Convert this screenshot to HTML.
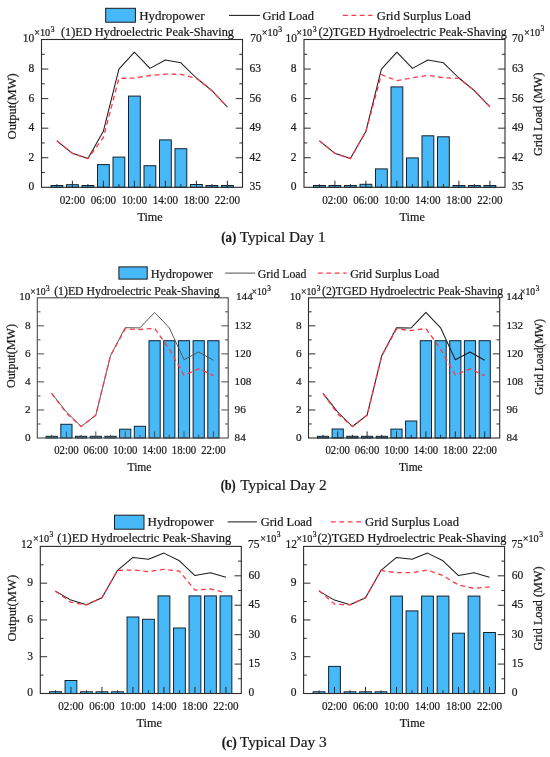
<!DOCTYPE html>
<html><head><meta charset="utf-8"><title>Hydroelectric Peak-Shaving</title>
<style>html,body{margin:0;padding:0;background:#fff;}svg{display:block;}text{fill:#1a1a1a;stroke:#1a1a1a;stroke-width:0.22px;}</style></head>
<body><svg width="550" height="757" viewBox="0 0 550 757" font-family='"Liberation Serif", serif'>
<rect width="550" height="757" fill="#fff"/>
<rect x="51.00" y="185.50" width="11.80" height="1.80" fill="#48b9f8" stroke="#15222c" stroke-width="1"/>
<rect x="66.50" y="184.70" width="11.80" height="2.60" fill="#48b9f8" stroke="#15222c" stroke-width="1"/>
<rect x="82.00" y="185.50" width="11.80" height="1.80" fill="#48b9f8" stroke="#15222c" stroke-width="1"/>
<rect x="97.50" y="164.60" width="11.80" height="22.70" fill="#48b9f8" stroke="#15222c" stroke-width="1"/>
<rect x="113.00" y="157.10" width="11.80" height="30.20" fill="#48b9f8" stroke="#15222c" stroke-width="1"/>
<rect x="128.50" y="96.10" width="11.80" height="91.20" fill="#48b9f8" stroke="#15222c" stroke-width="1"/>
<rect x="144.00" y="165.70" width="11.80" height="21.60" fill="#48b9f8" stroke="#15222c" stroke-width="1"/>
<rect x="159.50" y="139.90" width="11.80" height="47.40" fill="#48b9f8" stroke="#15222c" stroke-width="1"/>
<rect x="175.00" y="148.70" width="11.80" height="38.60" fill="#48b9f8" stroke="#15222c" stroke-width="1"/>
<rect x="190.50" y="184.50" width="11.80" height="2.80" fill="#48b9f8" stroke="#15222c" stroke-width="1"/>
<rect x="206.00" y="185.50" width="11.80" height="1.80" fill="#48b9f8" stroke="#15222c" stroke-width="1"/>
<rect x="221.50" y="185.50" width="11.80" height="1.80" fill="#48b9f8" stroke="#15222c" stroke-width="1"/>
<line x1="56.90" y1="187.30" x2="56.90" y2="184.10" stroke="#2b2b2b" stroke-width="1"/>
<line x1="72.40" y1="187.30" x2="72.40" y2="180.70" stroke="#2b2b2b" stroke-width="1"/>
<line x1="87.90" y1="187.30" x2="87.90" y2="184.10" stroke="#2b2b2b" stroke-width="1"/>
<line x1="103.40" y1="187.30" x2="103.40" y2="180.70" stroke="#2b2b2b" stroke-width="1"/>
<line x1="118.90" y1="187.30" x2="118.90" y2="184.10" stroke="#2b2b2b" stroke-width="1"/>
<line x1="134.40" y1="187.30" x2="134.40" y2="180.70" stroke="#2b2b2b" stroke-width="1"/>
<line x1="149.90" y1="187.30" x2="149.90" y2="184.10" stroke="#2b2b2b" stroke-width="1"/>
<line x1="165.40" y1="187.30" x2="165.40" y2="180.70" stroke="#2b2b2b" stroke-width="1"/>
<line x1="180.90" y1="187.30" x2="180.90" y2="184.10" stroke="#2b2b2b" stroke-width="1"/>
<line x1="196.40" y1="187.30" x2="196.40" y2="180.70" stroke="#2b2b2b" stroke-width="1"/>
<line x1="211.90" y1="187.30" x2="211.90" y2="184.10" stroke="#2b2b2b" stroke-width="1"/>
<line x1="227.40" y1="187.30" x2="227.40" y2="180.70" stroke="#2b2b2b" stroke-width="1"/>
<polyline points="56.90,140.80 72.40,153.30 87.90,158.60 103.40,131.20 118.90,69.20 134.40,52.20 149.90,68.40 165.40,60.00 180.90,62.80 196.40,78.00 211.90,90.70 227.40,107.00" fill="none" stroke="#1e1e1e" stroke-width="1.05" stroke-linejoin="round"/>
<polyline points="56.90,140.80 72.40,153.30 87.90,158.60 103.40,137.50 118.90,78.40 134.40,78.10 149.90,75.50 165.40,74.10 180.90,74.30 196.40,78.20 211.90,90.70 227.40,107.00" fill="none" stroke="#ff3646" stroke-width="1.3" stroke-dasharray="4.8 3.6" stroke-linejoin="round"/>
<line x1="41.50" y1="172.52" x2="44.70" y2="172.52" stroke="#2b2b2b" stroke-width="1"/>
<line x1="41.50" y1="157.74" x2="48.30" y2="157.74" stroke="#2b2b2b" stroke-width="1"/>
<line x1="41.50" y1="142.96" x2="44.70" y2="142.96" stroke="#2b2b2b" stroke-width="1"/>
<line x1="41.50" y1="128.18" x2="48.30" y2="128.18" stroke="#2b2b2b" stroke-width="1"/>
<line x1="41.50" y1="113.40" x2="44.70" y2="113.40" stroke="#2b2b2b" stroke-width="1"/>
<line x1="41.50" y1="98.62" x2="48.30" y2="98.62" stroke="#2b2b2b" stroke-width="1"/>
<line x1="41.50" y1="83.84" x2="44.70" y2="83.84" stroke="#2b2b2b" stroke-width="1"/>
<line x1="41.50" y1="69.06" x2="48.30" y2="69.06" stroke="#2b2b2b" stroke-width="1"/>
<line x1="41.50" y1="54.28" x2="44.70" y2="54.28" stroke="#2b2b2b" stroke-width="1"/>
<line x1="242.50" y1="172.52" x2="239.30" y2="172.52" stroke="#2b2b2b" stroke-width="1"/>
<line x1="242.50" y1="157.74" x2="235.70" y2="157.74" stroke="#2b2b2b" stroke-width="1"/>
<line x1="242.50" y1="142.96" x2="239.30" y2="142.96" stroke="#2b2b2b" stroke-width="1"/>
<line x1="242.50" y1="128.18" x2="235.70" y2="128.18" stroke="#2b2b2b" stroke-width="1"/>
<line x1="242.50" y1="113.40" x2="239.30" y2="113.40" stroke="#2b2b2b" stroke-width="1"/>
<line x1="242.50" y1="98.62" x2="235.70" y2="98.62" stroke="#2b2b2b" stroke-width="1"/>
<line x1="242.50" y1="83.84" x2="239.30" y2="83.84" stroke="#2b2b2b" stroke-width="1"/>
<line x1="242.50" y1="69.06" x2="235.70" y2="69.06" stroke="#2b2b2b" stroke-width="1"/>
<line x1="242.50" y1="54.28" x2="239.30" y2="54.28" stroke="#2b2b2b" stroke-width="1"/>
<rect x="41.50" y="39.50" width="201.00" height="147.80" fill="none" stroke="#2b2b2b" stroke-width="1.1"/>
<text x="34.20" y="190.20" font-size="11.5" text-anchor="end">0</text>
<text x="34.20" y="160.64" font-size="11.5" text-anchor="end">2</text>
<text x="34.20" y="131.08" font-size="11.5" text-anchor="end">4</text>
<text x="34.20" y="101.52" font-size="11.5" text-anchor="end">6</text>
<text x="34.20" y="71.96" font-size="11.5" text-anchor="end">8</text>
<text x="249.60" y="190.20" font-size="11.5">35</text>
<text x="249.60" y="160.64" font-size="11.5">42</text>
<text x="249.60" y="131.08" font-size="11.5">49</text>
<text x="249.60" y="101.52" font-size="11.5">56</text>
<text x="249.60" y="71.96" font-size="11.5">63</text>
<text x="59.80" y="203.50" font-size="12.5" textLength="25.20" lengthAdjust="spacingAndGlyphs">02:00</text>
<text x="90.80" y="203.50" font-size="12.5" textLength="25.20" lengthAdjust="spacingAndGlyphs">06:00</text>
<text x="121.80" y="203.50" font-size="12.5" textLength="25.20" lengthAdjust="spacingAndGlyphs">10:00</text>
<text x="152.80" y="203.50" font-size="12.5" textLength="25.20" lengthAdjust="spacingAndGlyphs">14:00</text>
<text x="183.80" y="203.50" font-size="12.5" textLength="25.20" lengthAdjust="spacingAndGlyphs">18:00</text>
<text x="214.80" y="203.50" font-size="12.5" textLength="25.20" lengthAdjust="spacingAndGlyphs">22:00</text>
<text x="137.40" y="221.40" font-size="12.2" textLength="25.40" lengthAdjust="spacingAndGlyphs">Time</text>
<rect x="313.50" y="185.50" width="11.80" height="1.80" fill="#48b9f8" stroke="#15222c" stroke-width="1"/>
<rect x="329.00" y="185.50" width="11.80" height="1.80" fill="#48b9f8" stroke="#15222c" stroke-width="1"/>
<rect x="344.50" y="185.50" width="11.80" height="1.80" fill="#48b9f8" stroke="#15222c" stroke-width="1"/>
<rect x="360.00" y="184.30" width="11.80" height="3.00" fill="#48b9f8" stroke="#15222c" stroke-width="1"/>
<rect x="375.50" y="168.90" width="11.80" height="18.40" fill="#48b9f8" stroke="#15222c" stroke-width="1"/>
<rect x="391.00" y="86.90" width="11.80" height="100.40" fill="#48b9f8" stroke="#15222c" stroke-width="1"/>
<rect x="406.50" y="157.90" width="11.80" height="29.40" fill="#48b9f8" stroke="#15222c" stroke-width="1"/>
<rect x="422.00" y="135.80" width="11.80" height="51.50" fill="#48b9f8" stroke="#15222c" stroke-width="1"/>
<rect x="437.50" y="136.80" width="11.80" height="50.50" fill="#48b9f8" stroke="#15222c" stroke-width="1"/>
<rect x="453.00" y="185.50" width="11.80" height="1.80" fill="#48b9f8" stroke="#15222c" stroke-width="1"/>
<rect x="468.50" y="185.50" width="11.80" height="1.80" fill="#48b9f8" stroke="#15222c" stroke-width="1"/>
<rect x="484.00" y="185.50" width="11.80" height="1.80" fill="#48b9f8" stroke="#15222c" stroke-width="1"/>
<line x1="319.40" y1="187.30" x2="319.40" y2="184.10" stroke="#2b2b2b" stroke-width="1"/>
<line x1="334.90" y1="187.30" x2="334.90" y2="180.70" stroke="#2b2b2b" stroke-width="1"/>
<line x1="350.40" y1="187.30" x2="350.40" y2="184.10" stroke="#2b2b2b" stroke-width="1"/>
<line x1="365.90" y1="187.30" x2="365.90" y2="180.70" stroke="#2b2b2b" stroke-width="1"/>
<line x1="381.40" y1="187.30" x2="381.40" y2="184.10" stroke="#2b2b2b" stroke-width="1"/>
<line x1="396.90" y1="187.30" x2="396.90" y2="180.70" stroke="#2b2b2b" stroke-width="1"/>
<line x1="412.40" y1="187.30" x2="412.40" y2="184.10" stroke="#2b2b2b" stroke-width="1"/>
<line x1="427.90" y1="187.30" x2="427.90" y2="180.70" stroke="#2b2b2b" stroke-width="1"/>
<line x1="443.40" y1="187.30" x2="443.40" y2="184.10" stroke="#2b2b2b" stroke-width="1"/>
<line x1="458.90" y1="187.30" x2="458.90" y2="180.70" stroke="#2b2b2b" stroke-width="1"/>
<line x1="474.40" y1="187.30" x2="474.40" y2="184.10" stroke="#2b2b2b" stroke-width="1"/>
<line x1="489.90" y1="187.30" x2="489.90" y2="180.70" stroke="#2b2b2b" stroke-width="1"/>
<polyline points="319.40,140.80 334.90,153.30 350.40,158.60 365.90,131.20 381.40,69.20 396.90,52.20 412.40,68.40 427.90,60.00 443.40,62.80 458.90,78.00 474.40,90.70 489.90,107.00" fill="none" stroke="#1e1e1e" stroke-width="1.05" stroke-linejoin="round"/>
<polyline points="319.40,140.80 334.90,153.30 350.40,158.60 365.90,131.60 381.40,74.70 396.90,80.60 412.40,77.80 427.90,75.40 443.40,77.80 458.90,78.30 474.40,90.70 489.90,106.80" fill="none" stroke="#ff3646" stroke-width="1.3" stroke-dasharray="4.8 3.6" stroke-linejoin="round"/>
<line x1="304.00" y1="172.52" x2="307.20" y2="172.52" stroke="#2b2b2b" stroke-width="1"/>
<line x1="304.00" y1="157.74" x2="310.80" y2="157.74" stroke="#2b2b2b" stroke-width="1"/>
<line x1="304.00" y1="142.96" x2="307.20" y2="142.96" stroke="#2b2b2b" stroke-width="1"/>
<line x1="304.00" y1="128.18" x2="310.80" y2="128.18" stroke="#2b2b2b" stroke-width="1"/>
<line x1="304.00" y1="113.40" x2="307.20" y2="113.40" stroke="#2b2b2b" stroke-width="1"/>
<line x1="304.00" y1="98.62" x2="310.80" y2="98.62" stroke="#2b2b2b" stroke-width="1"/>
<line x1="304.00" y1="83.84" x2="307.20" y2="83.84" stroke="#2b2b2b" stroke-width="1"/>
<line x1="304.00" y1="69.06" x2="310.80" y2="69.06" stroke="#2b2b2b" stroke-width="1"/>
<line x1="304.00" y1="54.28" x2="307.20" y2="54.28" stroke="#2b2b2b" stroke-width="1"/>
<line x1="505.00" y1="172.52" x2="501.80" y2="172.52" stroke="#2b2b2b" stroke-width="1"/>
<line x1="505.00" y1="157.74" x2="498.20" y2="157.74" stroke="#2b2b2b" stroke-width="1"/>
<line x1="505.00" y1="142.96" x2="501.80" y2="142.96" stroke="#2b2b2b" stroke-width="1"/>
<line x1="505.00" y1="128.18" x2="498.20" y2="128.18" stroke="#2b2b2b" stroke-width="1"/>
<line x1="505.00" y1="113.40" x2="501.80" y2="113.40" stroke="#2b2b2b" stroke-width="1"/>
<line x1="505.00" y1="98.62" x2="498.20" y2="98.62" stroke="#2b2b2b" stroke-width="1"/>
<line x1="505.00" y1="83.84" x2="501.80" y2="83.84" stroke="#2b2b2b" stroke-width="1"/>
<line x1="505.00" y1="69.06" x2="498.20" y2="69.06" stroke="#2b2b2b" stroke-width="1"/>
<line x1="505.00" y1="54.28" x2="501.80" y2="54.28" stroke="#2b2b2b" stroke-width="1"/>
<rect x="304.00" y="39.50" width="201.00" height="147.80" fill="none" stroke="#2b2b2b" stroke-width="1.1"/>
<text x="296.60" y="190.20" font-size="11.5" text-anchor="end">0</text>
<text x="296.60" y="160.64" font-size="11.5" text-anchor="end">2</text>
<text x="296.60" y="131.08" font-size="11.5" text-anchor="end">4</text>
<text x="296.60" y="101.52" font-size="11.5" text-anchor="end">6</text>
<text x="296.60" y="71.96" font-size="11.5" text-anchor="end">8</text>
<text x="512.00" y="190.20" font-size="11.5">35</text>
<text x="512.00" y="160.64" font-size="11.5">42</text>
<text x="512.00" y="131.08" font-size="11.5">49</text>
<text x="512.00" y="101.52" font-size="11.5">56</text>
<text x="512.00" y="71.96" font-size="11.5">63</text>
<text x="322.30" y="203.50" font-size="12.5" textLength="25.20" lengthAdjust="spacingAndGlyphs">02:00</text>
<text x="353.30" y="203.50" font-size="12.5" textLength="25.20" lengthAdjust="spacingAndGlyphs">06:00</text>
<text x="384.30" y="203.50" font-size="12.5" textLength="25.20" lengthAdjust="spacingAndGlyphs">10:00</text>
<text x="415.30" y="203.50" font-size="12.5" textLength="25.20" lengthAdjust="spacingAndGlyphs">14:00</text>
<text x="446.30" y="203.50" font-size="12.5" textLength="25.20" lengthAdjust="spacingAndGlyphs">18:00</text>
<text x="477.30" y="203.50" font-size="12.5" textLength="25.20" lengthAdjust="spacingAndGlyphs">22:00</text>
<text x="399.55" y="221.40" font-size="12.2" textLength="25.30" lengthAdjust="spacingAndGlyphs">Time</text>
<rect x="46.10" y="436.30" width="11.20" height="1.70" fill="#48b9f8" stroke="#15222c" stroke-width="1"/>
<rect x="60.80" y="424.30" width="11.20" height="13.70" fill="#48b9f8" stroke="#15222c" stroke-width="1"/>
<rect x="75.50" y="436.30" width="11.20" height="1.70" fill="#48b9f8" stroke="#15222c" stroke-width="1"/>
<rect x="90.20" y="436.30" width="11.20" height="1.70" fill="#48b9f8" stroke="#15222c" stroke-width="1"/>
<rect x="104.90" y="436.30" width="11.20" height="1.70" fill="#48b9f8" stroke="#15222c" stroke-width="1"/>
<rect x="119.60" y="429.20" width="11.20" height="8.80" fill="#48b9f8" stroke="#15222c" stroke-width="1"/>
<rect x="134.30" y="426.30" width="11.20" height="11.70" fill="#48b9f8" stroke="#15222c" stroke-width="1"/>
<rect x="149.00" y="340.70" width="11.20" height="97.30" fill="#48b9f8" stroke="#15222c" stroke-width="1"/>
<rect x="163.70" y="340.70" width="11.20" height="97.30" fill="#48b9f8" stroke="#15222c" stroke-width="1"/>
<rect x="178.40" y="340.70" width="11.20" height="97.30" fill="#48b9f8" stroke="#15222c" stroke-width="1"/>
<rect x="193.10" y="340.70" width="11.20" height="97.30" fill="#48b9f8" stroke="#15222c" stroke-width="1"/>
<rect x="207.80" y="340.70" width="11.20" height="97.30" fill="#48b9f8" stroke="#15222c" stroke-width="1"/>
<line x1="51.70" y1="438.00" x2="51.70" y2="434.80" stroke="#4a4a4a" stroke-width="1"/>
<line x1="66.40" y1="438.00" x2="66.40" y2="431.40" stroke="#4a4a4a" stroke-width="1"/>
<line x1="81.10" y1="438.00" x2="81.10" y2="434.80" stroke="#4a4a4a" stroke-width="1"/>
<line x1="95.80" y1="438.00" x2="95.80" y2="431.40" stroke="#4a4a4a" stroke-width="1"/>
<line x1="110.50" y1="438.00" x2="110.50" y2="434.80" stroke="#4a4a4a" stroke-width="1"/>
<line x1="125.20" y1="438.00" x2="125.20" y2="431.40" stroke="#4a4a4a" stroke-width="1"/>
<line x1="139.90" y1="438.00" x2="139.90" y2="434.80" stroke="#4a4a4a" stroke-width="1"/>
<line x1="154.60" y1="438.00" x2="154.60" y2="431.40" stroke="#4a4a4a" stroke-width="1"/>
<line x1="169.30" y1="438.00" x2="169.30" y2="434.80" stroke="#4a4a4a" stroke-width="1"/>
<line x1="184.00" y1="438.00" x2="184.00" y2="431.40" stroke="#4a4a4a" stroke-width="1"/>
<line x1="198.70" y1="438.00" x2="198.70" y2="434.80" stroke="#4a4a4a" stroke-width="1"/>
<line x1="213.40" y1="438.00" x2="213.40" y2="431.40" stroke="#4a4a4a" stroke-width="1"/>
<polyline points="51.70,393.40 66.40,412.00 81.10,426.50 95.80,415.20 110.50,355.70 125.20,327.70 139.90,327.90 154.60,312.40 169.30,327.80 184.00,359.70 198.70,352.00 213.40,360.20" fill="none" stroke="#505050" stroke-width="0.95" stroke-linejoin="round"/>
<polyline points="51.70,393.40 66.40,413.00 81.10,426.50 95.80,415.20 110.50,355.70 125.20,328.90 139.90,329.50 154.60,328.30 169.30,349.00 184.00,375.30 198.70,368.80 213.40,375.60" fill="none" stroke="#ff3646" stroke-width="1.3" stroke-dasharray="4.8 3.6" stroke-linejoin="round"/>
<line x1="37.30" y1="423.98" x2="40.50" y2="423.98" stroke="#4a4a4a" stroke-width="1"/>
<line x1="37.30" y1="409.96" x2="44.10" y2="409.96" stroke="#4a4a4a" stroke-width="1"/>
<line x1="37.30" y1="395.94" x2="40.50" y2="395.94" stroke="#4a4a4a" stroke-width="1"/>
<line x1="37.30" y1="381.92" x2="44.10" y2="381.92" stroke="#4a4a4a" stroke-width="1"/>
<line x1="37.30" y1="367.90" x2="40.50" y2="367.90" stroke="#4a4a4a" stroke-width="1"/>
<line x1="37.30" y1="353.88" x2="44.10" y2="353.88" stroke="#4a4a4a" stroke-width="1"/>
<line x1="37.30" y1="339.86" x2="40.50" y2="339.86" stroke="#4a4a4a" stroke-width="1"/>
<line x1="37.30" y1="325.84" x2="44.10" y2="325.84" stroke="#4a4a4a" stroke-width="1"/>
<line x1="37.30" y1="311.82" x2="40.50" y2="311.82" stroke="#4a4a4a" stroke-width="1"/>
<line x1="228.20" y1="423.98" x2="225.00" y2="423.98" stroke="#4a4a4a" stroke-width="1"/>
<line x1="228.20" y1="409.96" x2="221.40" y2="409.96" stroke="#4a4a4a" stroke-width="1"/>
<line x1="228.20" y1="395.94" x2="225.00" y2="395.94" stroke="#4a4a4a" stroke-width="1"/>
<line x1="228.20" y1="381.92" x2="221.40" y2="381.92" stroke="#4a4a4a" stroke-width="1"/>
<line x1="228.20" y1="367.90" x2="225.00" y2="367.90" stroke="#4a4a4a" stroke-width="1"/>
<line x1="228.20" y1="353.88" x2="221.40" y2="353.88" stroke="#4a4a4a" stroke-width="1"/>
<line x1="228.20" y1="339.86" x2="225.00" y2="339.86" stroke="#4a4a4a" stroke-width="1"/>
<line x1="228.20" y1="325.84" x2="221.40" y2="325.84" stroke="#4a4a4a" stroke-width="1"/>
<line x1="228.20" y1="311.82" x2="225.00" y2="311.82" stroke="#4a4a4a" stroke-width="1"/>
<rect x="37.30" y="297.80" width="190.90" height="140.20" fill="none" stroke="#4a4a4a" stroke-width="1.1"/>
<text x="30.60" y="440.90" font-size="11.2" text-anchor="end">0</text>
<text x="30.60" y="412.86" font-size="11.2" text-anchor="end">2</text>
<text x="30.60" y="384.82" font-size="11.2" text-anchor="end">4</text>
<text x="30.60" y="356.78" font-size="11.2" text-anchor="end">6</text>
<text x="30.60" y="328.74" font-size="11.2" text-anchor="end">8</text>
<text x="234.60" y="440.90" font-size="11.2">84</text>
<text x="234.60" y="412.86" font-size="11.2">96</text>
<text x="234.60" y="384.82" font-size="11.2">108</text>
<text x="234.60" y="356.78" font-size="11.2">120</text>
<text x="234.60" y="328.74" font-size="11.2">132</text>
<text x="54.15" y="453.60" font-size="12.1" textLength="24.50" lengthAdjust="spacingAndGlyphs">02:00</text>
<text x="83.55" y="453.60" font-size="12.1" textLength="24.50" lengthAdjust="spacingAndGlyphs">06:00</text>
<text x="112.95" y="453.60" font-size="12.1" textLength="24.50" lengthAdjust="spacingAndGlyphs">10:00</text>
<text x="142.35" y="453.60" font-size="12.1" textLength="24.50" lengthAdjust="spacingAndGlyphs">14:00</text>
<text x="171.75" y="453.60" font-size="12.1" textLength="24.50" lengthAdjust="spacingAndGlyphs">18:00</text>
<text x="201.15" y="453.60" font-size="12.1" textLength="24.50" lengthAdjust="spacingAndGlyphs">22:00</text>
<text x="127.50" y="471.00" font-size="11.8" textLength="24.00" lengthAdjust="spacingAndGlyphs">Time</text>
<rect x="317.40" y="436.30" width="11.20" height="1.70" fill="#48b9f8" stroke="#15222c" stroke-width="1"/>
<rect x="332.10" y="429.00" width="11.20" height="9.00" fill="#48b9f8" stroke="#15222c" stroke-width="1"/>
<rect x="346.80" y="436.30" width="11.20" height="1.70" fill="#48b9f8" stroke="#15222c" stroke-width="1"/>
<rect x="361.50" y="436.30" width="11.20" height="1.70" fill="#48b9f8" stroke="#15222c" stroke-width="1"/>
<rect x="376.20" y="436.30" width="11.20" height="1.70" fill="#48b9f8" stroke="#15222c" stroke-width="1"/>
<rect x="390.90" y="429.10" width="11.20" height="8.90" fill="#48b9f8" stroke="#15222c" stroke-width="1"/>
<rect x="405.60" y="421.00" width="11.20" height="17.00" fill="#48b9f8" stroke="#15222c" stroke-width="1"/>
<rect x="420.30" y="340.70" width="11.20" height="97.30" fill="#48b9f8" stroke="#15222c" stroke-width="1"/>
<rect x="435.00" y="340.70" width="11.20" height="97.30" fill="#48b9f8" stroke="#15222c" stroke-width="1"/>
<rect x="449.70" y="340.70" width="11.20" height="97.30" fill="#48b9f8" stroke="#15222c" stroke-width="1"/>
<rect x="464.40" y="340.70" width="11.20" height="97.30" fill="#48b9f8" stroke="#15222c" stroke-width="1"/>
<rect x="479.10" y="340.70" width="11.20" height="97.30" fill="#48b9f8" stroke="#15222c" stroke-width="1"/>
<line x1="323.00" y1="438.00" x2="323.00" y2="434.80" stroke="#2b2b2b" stroke-width="1"/>
<line x1="337.70" y1="438.00" x2="337.70" y2="431.40" stroke="#2b2b2b" stroke-width="1"/>
<line x1="352.40" y1="438.00" x2="352.40" y2="434.80" stroke="#2b2b2b" stroke-width="1"/>
<line x1="367.10" y1="438.00" x2="367.10" y2="431.40" stroke="#2b2b2b" stroke-width="1"/>
<line x1="381.80" y1="438.00" x2="381.80" y2="434.80" stroke="#2b2b2b" stroke-width="1"/>
<line x1="396.50" y1="438.00" x2="396.50" y2="431.40" stroke="#2b2b2b" stroke-width="1"/>
<line x1="411.20" y1="438.00" x2="411.20" y2="434.80" stroke="#2b2b2b" stroke-width="1"/>
<line x1="425.90" y1="438.00" x2="425.90" y2="431.40" stroke="#2b2b2b" stroke-width="1"/>
<line x1="440.60" y1="438.00" x2="440.60" y2="434.80" stroke="#2b2b2b" stroke-width="1"/>
<line x1="455.30" y1="438.00" x2="455.30" y2="431.40" stroke="#2b2b2b" stroke-width="1"/>
<line x1="470.00" y1="438.00" x2="470.00" y2="434.80" stroke="#2b2b2b" stroke-width="1"/>
<line x1="484.70" y1="438.00" x2="484.70" y2="431.40" stroke="#2b2b2b" stroke-width="1"/>
<polyline points="323.00,393.40 337.70,412.00 352.40,426.50 367.10,415.20 381.80,355.70 396.50,327.70 411.20,327.90 425.90,312.40 440.60,327.80 455.30,359.70 470.00,352.00 484.70,360.20" fill="none" stroke="#1e1e1e" stroke-width="1.05" stroke-linejoin="round"/>
<polyline points="323.00,393.40 337.70,413.90 352.40,426.50 367.10,415.20 381.80,355.70 396.50,328.90 411.20,330.60 425.90,328.50 440.60,349.00 455.30,375.00 470.00,368.90 484.70,375.60" fill="none" stroke="#ff3646" stroke-width="1.3" stroke-dasharray="4.8 3.6" stroke-linejoin="round"/>
<line x1="308.50" y1="423.98" x2="311.70" y2="423.98" stroke="#2b2b2b" stroke-width="1"/>
<line x1="308.50" y1="409.96" x2="315.30" y2="409.96" stroke="#2b2b2b" stroke-width="1"/>
<line x1="308.50" y1="395.94" x2="311.70" y2="395.94" stroke="#2b2b2b" stroke-width="1"/>
<line x1="308.50" y1="381.92" x2="315.30" y2="381.92" stroke="#2b2b2b" stroke-width="1"/>
<line x1="308.50" y1="367.90" x2="311.70" y2="367.90" stroke="#2b2b2b" stroke-width="1"/>
<line x1="308.50" y1="353.88" x2="315.30" y2="353.88" stroke="#2b2b2b" stroke-width="1"/>
<line x1="308.50" y1="339.86" x2="311.70" y2="339.86" stroke="#2b2b2b" stroke-width="1"/>
<line x1="308.50" y1="325.84" x2="315.30" y2="325.84" stroke="#2b2b2b" stroke-width="1"/>
<line x1="308.50" y1="311.82" x2="311.70" y2="311.82" stroke="#2b2b2b" stroke-width="1"/>
<line x1="499.70" y1="423.98" x2="496.50" y2="423.98" stroke="#2b2b2b" stroke-width="1"/>
<line x1="499.70" y1="409.96" x2="492.90" y2="409.96" stroke="#2b2b2b" stroke-width="1"/>
<line x1="499.70" y1="395.94" x2="496.50" y2="395.94" stroke="#2b2b2b" stroke-width="1"/>
<line x1="499.70" y1="381.92" x2="492.90" y2="381.92" stroke="#2b2b2b" stroke-width="1"/>
<line x1="499.70" y1="367.90" x2="496.50" y2="367.90" stroke="#2b2b2b" stroke-width="1"/>
<line x1="499.70" y1="353.88" x2="492.90" y2="353.88" stroke="#2b2b2b" stroke-width="1"/>
<line x1="499.70" y1="339.86" x2="496.50" y2="339.86" stroke="#2b2b2b" stroke-width="1"/>
<line x1="499.70" y1="325.84" x2="492.90" y2="325.84" stroke="#2b2b2b" stroke-width="1"/>
<line x1="499.70" y1="311.82" x2="496.50" y2="311.82" stroke="#2b2b2b" stroke-width="1"/>
<rect x="308.50" y="297.80" width="191.20" height="140.20" fill="none" stroke="#2b2b2b" stroke-width="1.1"/>
<text x="301.60" y="440.90" font-size="11.2" text-anchor="end">0</text>
<text x="301.60" y="412.86" font-size="11.2" text-anchor="end">2</text>
<text x="301.60" y="384.82" font-size="11.2" text-anchor="end">4</text>
<text x="301.60" y="356.78" font-size="11.2" text-anchor="end">6</text>
<text x="301.60" y="328.74" font-size="11.2" text-anchor="end">8</text>
<text x="506.40" y="440.90" font-size="11.2">84</text>
<text x="506.40" y="412.86" font-size="11.2">96</text>
<text x="506.40" y="384.82" font-size="11.2">108</text>
<text x="506.40" y="356.78" font-size="11.2">120</text>
<text x="506.40" y="328.74" font-size="11.2">132</text>
<text x="325.45" y="453.60" font-size="12.1" textLength="24.50" lengthAdjust="spacingAndGlyphs">02:00</text>
<text x="354.85" y="453.60" font-size="12.1" textLength="24.50" lengthAdjust="spacingAndGlyphs">06:00</text>
<text x="384.25" y="453.60" font-size="12.1" textLength="24.50" lengthAdjust="spacingAndGlyphs">10:00</text>
<text x="413.65" y="453.60" font-size="12.1" textLength="24.50" lengthAdjust="spacingAndGlyphs">14:00</text>
<text x="443.05" y="453.60" font-size="12.1" textLength="24.50" lengthAdjust="spacingAndGlyphs">18:00</text>
<text x="472.45" y="453.60" font-size="12.1" textLength="24.50" lengthAdjust="spacingAndGlyphs">22:00</text>
<text x="398.90" y="471.00" font-size="11.8" textLength="23.80" lengthAdjust="spacingAndGlyphs">Time</text>
<rect x="49.55" y="691.70" width="11.80" height="1.80" fill="#48b9f8" stroke="#15222c" stroke-width="1"/>
<rect x="65.05" y="680.50" width="11.80" height="13.00" fill="#48b9f8" stroke="#15222c" stroke-width="1"/>
<rect x="80.55" y="691.80" width="11.80" height="1.70" fill="#48b9f8" stroke="#15222c" stroke-width="1"/>
<rect x="96.05" y="691.80" width="11.80" height="1.70" fill="#48b9f8" stroke="#15222c" stroke-width="1"/>
<rect x="111.55" y="691.80" width="11.80" height="1.70" fill="#48b9f8" stroke="#15222c" stroke-width="1"/>
<rect x="127.05" y="617.00" width="11.80" height="76.50" fill="#48b9f8" stroke="#15222c" stroke-width="1"/>
<rect x="142.55" y="619.30" width="11.80" height="74.20" fill="#48b9f8" stroke="#15222c" stroke-width="1"/>
<rect x="158.05" y="595.90" width="11.80" height="97.60" fill="#48b9f8" stroke="#15222c" stroke-width="1"/>
<rect x="173.55" y="628.00" width="11.80" height="65.50" fill="#48b9f8" stroke="#15222c" stroke-width="1"/>
<rect x="189.05" y="595.90" width="11.80" height="97.60" fill="#48b9f8" stroke="#15222c" stroke-width="1"/>
<rect x="204.55" y="595.90" width="11.80" height="97.60" fill="#48b9f8" stroke="#15222c" stroke-width="1"/>
<rect x="220.05" y="595.90" width="11.80" height="97.60" fill="#48b9f8" stroke="#15222c" stroke-width="1"/>
<line x1="55.45" y1="693.50" x2="55.45" y2="690.30" stroke="#2b2b2b" stroke-width="1"/>
<line x1="70.95" y1="693.50" x2="70.95" y2="686.90" stroke="#2b2b2b" stroke-width="1"/>
<line x1="86.45" y1="693.50" x2="86.45" y2="690.30" stroke="#2b2b2b" stroke-width="1"/>
<line x1="101.95" y1="693.50" x2="101.95" y2="686.90" stroke="#2b2b2b" stroke-width="1"/>
<line x1="117.45" y1="693.50" x2="117.45" y2="690.30" stroke="#2b2b2b" stroke-width="1"/>
<line x1="132.95" y1="693.50" x2="132.95" y2="686.90" stroke="#2b2b2b" stroke-width="1"/>
<line x1="148.45" y1="693.50" x2="148.45" y2="690.30" stroke="#2b2b2b" stroke-width="1"/>
<line x1="163.95" y1="693.50" x2="163.95" y2="686.90" stroke="#2b2b2b" stroke-width="1"/>
<line x1="179.45" y1="693.50" x2="179.45" y2="690.30" stroke="#2b2b2b" stroke-width="1"/>
<line x1="194.95" y1="693.50" x2="194.95" y2="686.90" stroke="#2b2b2b" stroke-width="1"/>
<line x1="210.45" y1="693.50" x2="210.45" y2="690.30" stroke="#2b2b2b" stroke-width="1"/>
<line x1="225.95" y1="693.50" x2="225.95" y2="686.90" stroke="#2b2b2b" stroke-width="1"/>
<polyline points="55.45,591.10 70.95,600.10 86.45,604.80 101.95,597.80 117.45,570.40 132.95,557.40 148.45,559.20 163.95,553.10 179.45,560.80 194.95,575.60 210.45,572.70 225.95,577.20" fill="none" stroke="#1e1e1e" stroke-width="1.05" stroke-linejoin="round"/>
<polyline points="55.45,591.10 70.95,602.30 86.45,604.80 101.95,597.80 117.45,570.40 132.95,570.00 148.45,571.60 163.95,569.30 179.45,571.10 194.95,590.20 210.45,588.90 225.95,592.90" fill="none" stroke="#ff3646" stroke-width="1.3" stroke-dasharray="4.8 3.6" stroke-linejoin="round"/>
<line x1="40.30" y1="675.11" x2="43.50" y2="675.11" stroke="#2b2b2b" stroke-width="1"/>
<line x1="40.30" y1="656.73" x2="47.10" y2="656.73" stroke="#2b2b2b" stroke-width="1"/>
<line x1="40.30" y1="638.34" x2="43.50" y2="638.34" stroke="#2b2b2b" stroke-width="1"/>
<line x1="40.30" y1="619.95" x2="47.10" y2="619.95" stroke="#2b2b2b" stroke-width="1"/>
<line x1="40.30" y1="601.56" x2="43.50" y2="601.56" stroke="#2b2b2b" stroke-width="1"/>
<line x1="40.30" y1="583.17" x2="47.10" y2="583.17" stroke="#2b2b2b" stroke-width="1"/>
<line x1="40.30" y1="564.79" x2="43.50" y2="564.79" stroke="#2b2b2b" stroke-width="1"/>
<line x1="241.30" y1="678.79" x2="238.10" y2="678.79" stroke="#2b2b2b" stroke-width="1"/>
<line x1="241.30" y1="664.08" x2="234.50" y2="664.08" stroke="#2b2b2b" stroke-width="1"/>
<line x1="241.30" y1="649.37" x2="238.10" y2="649.37" stroke="#2b2b2b" stroke-width="1"/>
<line x1="241.30" y1="634.66" x2="234.50" y2="634.66" stroke="#2b2b2b" stroke-width="1"/>
<line x1="241.30" y1="619.95" x2="238.10" y2="619.95" stroke="#2b2b2b" stroke-width="1"/>
<line x1="241.30" y1="605.24" x2="234.50" y2="605.24" stroke="#2b2b2b" stroke-width="1"/>
<line x1="241.30" y1="590.53" x2="238.10" y2="590.53" stroke="#2b2b2b" stroke-width="1"/>
<line x1="241.30" y1="575.82" x2="234.50" y2="575.82" stroke="#2b2b2b" stroke-width="1"/>
<line x1="241.30" y1="561.11" x2="238.10" y2="561.11" stroke="#2b2b2b" stroke-width="1"/>
<rect x="40.30" y="546.40" width="201.00" height="147.10" fill="none" stroke="#2b2b2b" stroke-width="1.1"/>
<text x="33.00" y="696.40" font-size="11.5" text-anchor="end">0</text>
<text x="33.00" y="659.62" font-size="11.5" text-anchor="end">3</text>
<text x="33.00" y="622.85" font-size="11.5" text-anchor="end">6</text>
<text x="33.00" y="586.07" font-size="11.5" text-anchor="end">9</text>
<text x="248.40" y="696.40" font-size="11.5">0</text>
<text x="248.40" y="666.98" font-size="11.5">15</text>
<text x="248.40" y="637.56" font-size="11.5">30</text>
<text x="248.40" y="608.14" font-size="11.5">45</text>
<text x="248.40" y="578.72" font-size="11.5">60</text>
<text x="58.35" y="709.60" font-size="12.5" textLength="25.20" lengthAdjust="spacingAndGlyphs">02:00</text>
<text x="89.35" y="709.60" font-size="12.5" textLength="25.20" lengthAdjust="spacingAndGlyphs">06:00</text>
<text x="120.35" y="709.60" font-size="12.5" textLength="25.20" lengthAdjust="spacingAndGlyphs">10:00</text>
<text x="151.35" y="709.60" font-size="12.5" textLength="25.20" lengthAdjust="spacingAndGlyphs">14:00</text>
<text x="182.35" y="709.60" font-size="12.5" textLength="25.20" lengthAdjust="spacingAndGlyphs">18:00</text>
<text x="213.35" y="709.60" font-size="12.5" textLength="25.20" lengthAdjust="spacingAndGlyphs">22:00</text>
<text x="136.40" y="726.70" font-size="12.2" textLength="25.60" lengthAdjust="spacingAndGlyphs">Time</text>
<rect x="313.10" y="691.80" width="11.80" height="1.70" fill="#48b9f8" stroke="#15222c" stroke-width="1"/>
<rect x="328.60" y="666.40" width="11.80" height="27.10" fill="#48b9f8" stroke="#15222c" stroke-width="1"/>
<rect x="344.10" y="691.80" width="11.80" height="1.70" fill="#48b9f8" stroke="#15222c" stroke-width="1"/>
<rect x="359.60" y="691.80" width="11.80" height="1.70" fill="#48b9f8" stroke="#15222c" stroke-width="1"/>
<rect x="375.10" y="691.80" width="11.80" height="1.70" fill="#48b9f8" stroke="#15222c" stroke-width="1"/>
<rect x="390.60" y="596.10" width="11.80" height="97.40" fill="#48b9f8" stroke="#15222c" stroke-width="1"/>
<rect x="406.10" y="610.90" width="11.80" height="82.60" fill="#48b9f8" stroke="#15222c" stroke-width="1"/>
<rect x="421.60" y="596.10" width="11.80" height="97.40" fill="#48b9f8" stroke="#15222c" stroke-width="1"/>
<rect x="437.10" y="596.10" width="11.80" height="97.40" fill="#48b9f8" stroke="#15222c" stroke-width="1"/>
<rect x="452.60" y="633.20" width="11.80" height="60.30" fill="#48b9f8" stroke="#15222c" stroke-width="1"/>
<rect x="468.10" y="596.10" width="11.80" height="97.40" fill="#48b9f8" stroke="#15222c" stroke-width="1"/>
<rect x="483.60" y="632.50" width="11.80" height="61.00" fill="#48b9f8" stroke="#15222c" stroke-width="1"/>
<line x1="319.00" y1="693.50" x2="319.00" y2="690.30" stroke="#2b2b2b" stroke-width="1"/>
<line x1="334.50" y1="693.50" x2="334.50" y2="686.90" stroke="#2b2b2b" stroke-width="1"/>
<line x1="350.00" y1="693.50" x2="350.00" y2="690.30" stroke="#2b2b2b" stroke-width="1"/>
<line x1="365.50" y1="693.50" x2="365.50" y2="686.90" stroke="#2b2b2b" stroke-width="1"/>
<line x1="381.00" y1="693.50" x2="381.00" y2="690.30" stroke="#2b2b2b" stroke-width="1"/>
<line x1="396.50" y1="693.50" x2="396.50" y2="686.90" stroke="#2b2b2b" stroke-width="1"/>
<line x1="412.00" y1="693.50" x2="412.00" y2="690.30" stroke="#2b2b2b" stroke-width="1"/>
<line x1="427.50" y1="693.50" x2="427.50" y2="686.90" stroke="#2b2b2b" stroke-width="1"/>
<line x1="443.00" y1="693.50" x2="443.00" y2="690.30" stroke="#2b2b2b" stroke-width="1"/>
<line x1="458.50" y1="693.50" x2="458.50" y2="686.90" stroke="#2b2b2b" stroke-width="1"/>
<line x1="474.00" y1="693.50" x2="474.00" y2="690.30" stroke="#2b2b2b" stroke-width="1"/>
<line x1="489.50" y1="693.50" x2="489.50" y2="686.90" stroke="#2b2b2b" stroke-width="1"/>
<polyline points="319.00,591.10 334.50,600.10 350.00,604.80 365.50,597.80 381.00,570.40 396.50,557.40 412.00,559.20 427.50,553.10 443.00,560.80 458.50,575.60 474.00,572.70 489.50,577.20" fill="none" stroke="#1e1e1e" stroke-width="1.05" stroke-linejoin="round"/>
<polyline points="319.00,590.60 334.50,604.10 350.00,604.80 365.50,597.80 381.00,570.40 396.50,572.70 412.00,572.70 427.50,570.00 443.00,575.60 458.50,585.00 474.00,588.40 489.50,586.90" fill="none" stroke="#ff3646" stroke-width="1.3" stroke-dasharray="4.8 3.6" stroke-linejoin="round"/>
<line x1="303.60" y1="675.11" x2="306.80" y2="675.11" stroke="#2b2b2b" stroke-width="1"/>
<line x1="303.60" y1="656.73" x2="310.40" y2="656.73" stroke="#2b2b2b" stroke-width="1"/>
<line x1="303.60" y1="638.34" x2="306.80" y2="638.34" stroke="#2b2b2b" stroke-width="1"/>
<line x1="303.60" y1="619.95" x2="310.40" y2="619.95" stroke="#2b2b2b" stroke-width="1"/>
<line x1="303.60" y1="601.56" x2="306.80" y2="601.56" stroke="#2b2b2b" stroke-width="1"/>
<line x1="303.60" y1="583.17" x2="310.40" y2="583.17" stroke="#2b2b2b" stroke-width="1"/>
<line x1="303.60" y1="564.79" x2="306.80" y2="564.79" stroke="#2b2b2b" stroke-width="1"/>
<line x1="504.60" y1="678.79" x2="501.40" y2="678.79" stroke="#2b2b2b" stroke-width="1"/>
<line x1="504.60" y1="664.08" x2="497.80" y2="664.08" stroke="#2b2b2b" stroke-width="1"/>
<line x1="504.60" y1="649.37" x2="501.40" y2="649.37" stroke="#2b2b2b" stroke-width="1"/>
<line x1="504.60" y1="634.66" x2="497.80" y2="634.66" stroke="#2b2b2b" stroke-width="1"/>
<line x1="504.60" y1="619.95" x2="501.40" y2="619.95" stroke="#2b2b2b" stroke-width="1"/>
<line x1="504.60" y1="605.24" x2="497.80" y2="605.24" stroke="#2b2b2b" stroke-width="1"/>
<line x1="504.60" y1="590.53" x2="501.40" y2="590.53" stroke="#2b2b2b" stroke-width="1"/>
<line x1="504.60" y1="575.82" x2="497.80" y2="575.82" stroke="#2b2b2b" stroke-width="1"/>
<line x1="504.60" y1="561.11" x2="501.40" y2="561.11" stroke="#2b2b2b" stroke-width="1"/>
<rect x="303.60" y="546.40" width="201.00" height="147.10" fill="none" stroke="#2b2b2b" stroke-width="1.1"/>
<text x="296.40" y="696.40" font-size="11.5" text-anchor="end">0</text>
<text x="296.40" y="659.62" font-size="11.5" text-anchor="end">3</text>
<text x="296.40" y="622.85" font-size="11.5" text-anchor="end">6</text>
<text x="296.40" y="586.07" font-size="11.5" text-anchor="end">9</text>
<text x="511.80" y="696.40" font-size="11.5">0</text>
<text x="511.80" y="666.98" font-size="11.5">15</text>
<text x="511.80" y="637.56" font-size="11.5">30</text>
<text x="511.80" y="608.14" font-size="11.5">45</text>
<text x="511.80" y="578.72" font-size="11.5">60</text>
<text x="321.90" y="709.60" font-size="12.5" textLength="25.20" lengthAdjust="spacingAndGlyphs">02:00</text>
<text x="352.90" y="709.60" font-size="12.5" textLength="25.20" lengthAdjust="spacingAndGlyphs">06:00</text>
<text x="383.90" y="709.60" font-size="12.5" textLength="25.20" lengthAdjust="spacingAndGlyphs">10:00</text>
<text x="414.90" y="709.60" font-size="12.5" textLength="25.20" lengthAdjust="spacingAndGlyphs">14:00</text>
<text x="445.90" y="709.60" font-size="12.5" textLength="25.20" lengthAdjust="spacingAndGlyphs">18:00</text>
<text x="476.90" y="709.60" font-size="12.5" textLength="25.20" lengthAdjust="spacingAndGlyphs">22:00</text>
<text x="399.80" y="726.70" font-size="12.2" textLength="25.20" lengthAdjust="spacingAndGlyphs">Time</text>
<rect x="105.70" y="8.30" width="29.70" height="13.90" fill="#48b9f8" stroke="#1a1a1a" stroke-width="1"/>
<text x="139.20" y="19.50" font-size="13" textLength="65.30" lengthAdjust="spacingAndGlyphs">Hydropower</text>
<line x1="229" y1="15.4" x2="260" y2="15.4" stroke="#1e1e1e" stroke-width="1.05"/>
<text x="262.50" y="19.50" font-size="13" textLength="51.50" lengthAdjust="spacingAndGlyphs">Grid Load</text>
<line x1="343" y1="15.4" x2="372.5" y2="15.4" stroke="#ff3646" stroke-width="1.3" stroke-dasharray="4.8 3.6"/>
<text x="376.80" y="19.50" font-size="13" textLength="94.00" lengthAdjust="spacingAndGlyphs">Grid Surplus Load</text>
<rect x="118.90" y="266.90" width="28.30" height="12.20" fill="#48b9f8" stroke="#1a1a1a" stroke-width="1"/>
<text x="150.70" y="277.60" font-size="12.5" textLength="62.30" lengthAdjust="spacingAndGlyphs">Hydropower</text>
<line x1="225.1" y1="273.1" x2="255.0" y2="273.1" stroke="#555555" stroke-width="1.05"/>
<text x="257.70" y="277.60" font-size="12.5" textLength="48.80" lengthAdjust="spacingAndGlyphs">Grid Load</text>
<line x1="318" y1="273.1" x2="346.5" y2="273.1" stroke="#ff3646" stroke-width="1.3" stroke-dasharray="4.8 3.6"/>
<text x="350.20" y="277.60" font-size="12.5" textLength="89.00" lengthAdjust="spacingAndGlyphs">Grid Surplus Load</text>
<rect x="114.50" y="515.20" width="29.50" height="14.00" fill="#48b9f8" stroke="#1a1a1a" stroke-width="1"/>
<text x="147.60" y="526.40" font-size="13" textLength="66.10" lengthAdjust="spacingAndGlyphs">Hydropower</text>
<line x1="227.6" y1="521.9" x2="256.9" y2="521.9" stroke="#1e1e1e" stroke-width="1.05"/>
<text x="260.70" y="526.40" font-size="13" textLength="51.40" lengthAdjust="spacingAndGlyphs">Grid Load</text>
<line x1="331" y1="521.9" x2="361" y2="521.9" stroke="#ff3646" stroke-width="1.3" stroke-dasharray="4.8 3.6"/>
<text x="365.10" y="526.40" font-size="13" textLength="93.90" lengthAdjust="spacingAndGlyphs">Grid Surplus Load</text>
<text x="61.00" y="36.30" font-size="12.0" textLength="173.00" lengthAdjust="spacingAndGlyphs">(1)ED Hydroelectric Peak-Shaving</text>
<text x="318.60" y="36.30" font-size="12.0" textLength="188.40" lengthAdjust="spacingAndGlyphs">(2)TGED Hydroelectric Peak-Shaving</text>
<text x="54.20" y="294.60" font-size="12.0" textLength="165.40" lengthAdjust="spacingAndGlyphs">(1)ED Hydroelectric Peak-Shaving</text>
<text x="322.00" y="294.60" font-size="12.0" textLength="181.10" lengthAdjust="spacingAndGlyphs">(2)TGED Hydroelectric Peak-Shaving</text>
<text x="57.30" y="541.60" font-size="12.0" textLength="173.90" lengthAdjust="spacingAndGlyphs">(1)ED Hydroelectric Peak-Shaving</text>
<text x="317.40" y="541.60" font-size="12.0" textLength="189.00" lengthAdjust="spacingAndGlyphs">(2)TGED Hydroelectric Peak-Shaving</text>
<text x="34.20" y="42.10" font-size="11.5" text-anchor="end">10</text>
<text x="34.20" y="36.40" font-size="10.2" textLength="16.00" lengthAdjust="spacingAndGlyphs">&#215;10</text>
<text x="50.70" y="31.50" font-size="7.6000000000000005">3</text>
<text x="250.20" y="42.00" font-size="11.5">70</text>
<text x="261.80" y="36.40" font-size="10.2" textLength="16.00" lengthAdjust="spacingAndGlyphs">&#215;10</text>
<text x="278.30" y="31.50" font-size="7.6000000000000005">3</text>
<text x="296.90" y="42.00" font-size="11.5" text-anchor="end">10</text>
<text x="296.20" y="36.40" font-size="10.2" textLength="16.00" lengthAdjust="spacingAndGlyphs">&#215;10</text>
<text x="312.70" y="31.50" font-size="7.6000000000000005">3</text>
<text x="512.00" y="42.00" font-size="11.5">70</text>
<text x="524.00" y="36.20" font-size="10.2" textLength="16.00" lengthAdjust="spacingAndGlyphs">&#215;10</text>
<text x="540.50" y="31.30" font-size="7.6000000000000005">3</text>
<text x="30.40" y="300.00" font-size="11.2" text-anchor="end">10</text>
<text x="30.30" y="295.30" font-size="9.8" textLength="15.20" lengthAdjust="spacingAndGlyphs">&#215;10</text>
<text x="46.00" y="290.59" font-size="7.301960784313726">3</text>
<text x="236.00" y="300.20" font-size="11.2">144</text>
<text x="251.50" y="295.30" font-size="9.8" textLength="15.20" lengthAdjust="spacingAndGlyphs">&#215;10</text>
<text x="267.20" y="290.59" font-size="7.301960784313726">3</text>
<text x="300.90" y="300.20" font-size="11.2" text-anchor="end">10</text>
<text x="301.00" y="295.30" font-size="9.8" textLength="15.20" lengthAdjust="spacingAndGlyphs">&#215;10</text>
<text x="316.70" y="290.59" font-size="7.301960784313726">3</text>
<text x="506.20" y="300.00" font-size="11.2">144</text>
<text x="520.00" y="295.30" font-size="9.8" textLength="15.20" lengthAdjust="spacingAndGlyphs">&#215;10</text>
<text x="535.70" y="290.59" font-size="7.301960784313726">3</text>
<text x="32.60" y="548.20" font-size="11.5" text-anchor="end">12</text>
<text x="33.00" y="542.30" font-size="10.2" textLength="16.00" lengthAdjust="spacingAndGlyphs">&#215;10</text>
<text x="49.50" y="537.40" font-size="7.6000000000000005">3</text>
<text x="248.10" y="548.30" font-size="11.5">75</text>
<text x="260.30" y="542.30" font-size="10.2" textLength="16.00" lengthAdjust="spacingAndGlyphs">&#215;10</text>
<text x="276.80" y="537.40" font-size="7.6000000000000005">3</text>
<text x="296.90" y="548.30" font-size="11.5" text-anchor="end">12</text>
<text x="296.30" y="542.30" font-size="10.2" textLength="16.00" lengthAdjust="spacingAndGlyphs">&#215;10</text>
<text x="312.80" y="537.40" font-size="7.6000000000000005">3</text>
<text x="511.60" y="548.30" font-size="11.5">75</text>
<text x="522.70" y="542.30" font-size="10.2" textLength="16.00" lengthAdjust="spacingAndGlyphs">&#215;10</text>
<text x="539.20" y="537.40" font-size="7.6000000000000005">3</text>
<text x="16.10" y="106.40" font-size="12.4" text-anchor="middle" textLength="66.00" lengthAdjust="spacingAndGlyphs" transform="rotate(-90 16.10 106.40)">Output(MW)</text>
<text x="16.00" y="608.20" font-size="12.4" text-anchor="middle" textLength="66.60" lengthAdjust="spacingAndGlyphs" transform="rotate(-90 16.00 608.20)">Output(MW)</text>
<text x="542.00" y="114.30" font-size="12.0" text-anchor="middle" textLength="83.50" lengthAdjust="spacingAndGlyphs" transform="rotate(-90 542.00 114.30)">Grid Load (MW)</text>
<text x="15.40" y="356.00" font-size="12.0" text-anchor="middle" textLength="64.00" lengthAdjust="spacingAndGlyphs" transform="rotate(-90 15.40 356.00)">Output(MW)</text>
<text x="542.60" y="357.00" font-size="11.6" text-anchor="middle" textLength="76.00" lengthAdjust="spacingAndGlyphs" transform="rotate(-90 542.60 357.00)">Grid Load(MW)</text>
<text x="542.00" y="608.50" font-size="12.0" text-anchor="middle" textLength="84.00" lengthAdjust="spacingAndGlyphs" transform="rotate(-90 542.00 608.50)">Grid Load (MW)</text>
<text x="221.20" y="241.70" font-size="14.8" textLength="15.00" lengthAdjust="spacingAndGlyphs" font-weight="bold">(a)</text>
<text x="239.80" y="241.70" font-size="14.8" textLength="85.80" lengthAdjust="spacingAndGlyphs">Typical Day 1</text>
<text x="220.70" y="490.10" font-size="14.8" textLength="15.00" lengthAdjust="spacingAndGlyphs" font-weight="bold">(b)</text>
<text x="240.20" y="490.10" font-size="14.8" textLength="86.60" lengthAdjust="spacingAndGlyphs">Typical Day 2</text>
<text x="221.70" y="746.70" font-size="14.8" textLength="15.00" lengthAdjust="spacingAndGlyphs" font-weight="bold">(c)</text>
<text x="239.80" y="746.70" font-size="14.8" textLength="87.00" lengthAdjust="spacingAndGlyphs">Typical Day 3</text>
</svg></body></html>
